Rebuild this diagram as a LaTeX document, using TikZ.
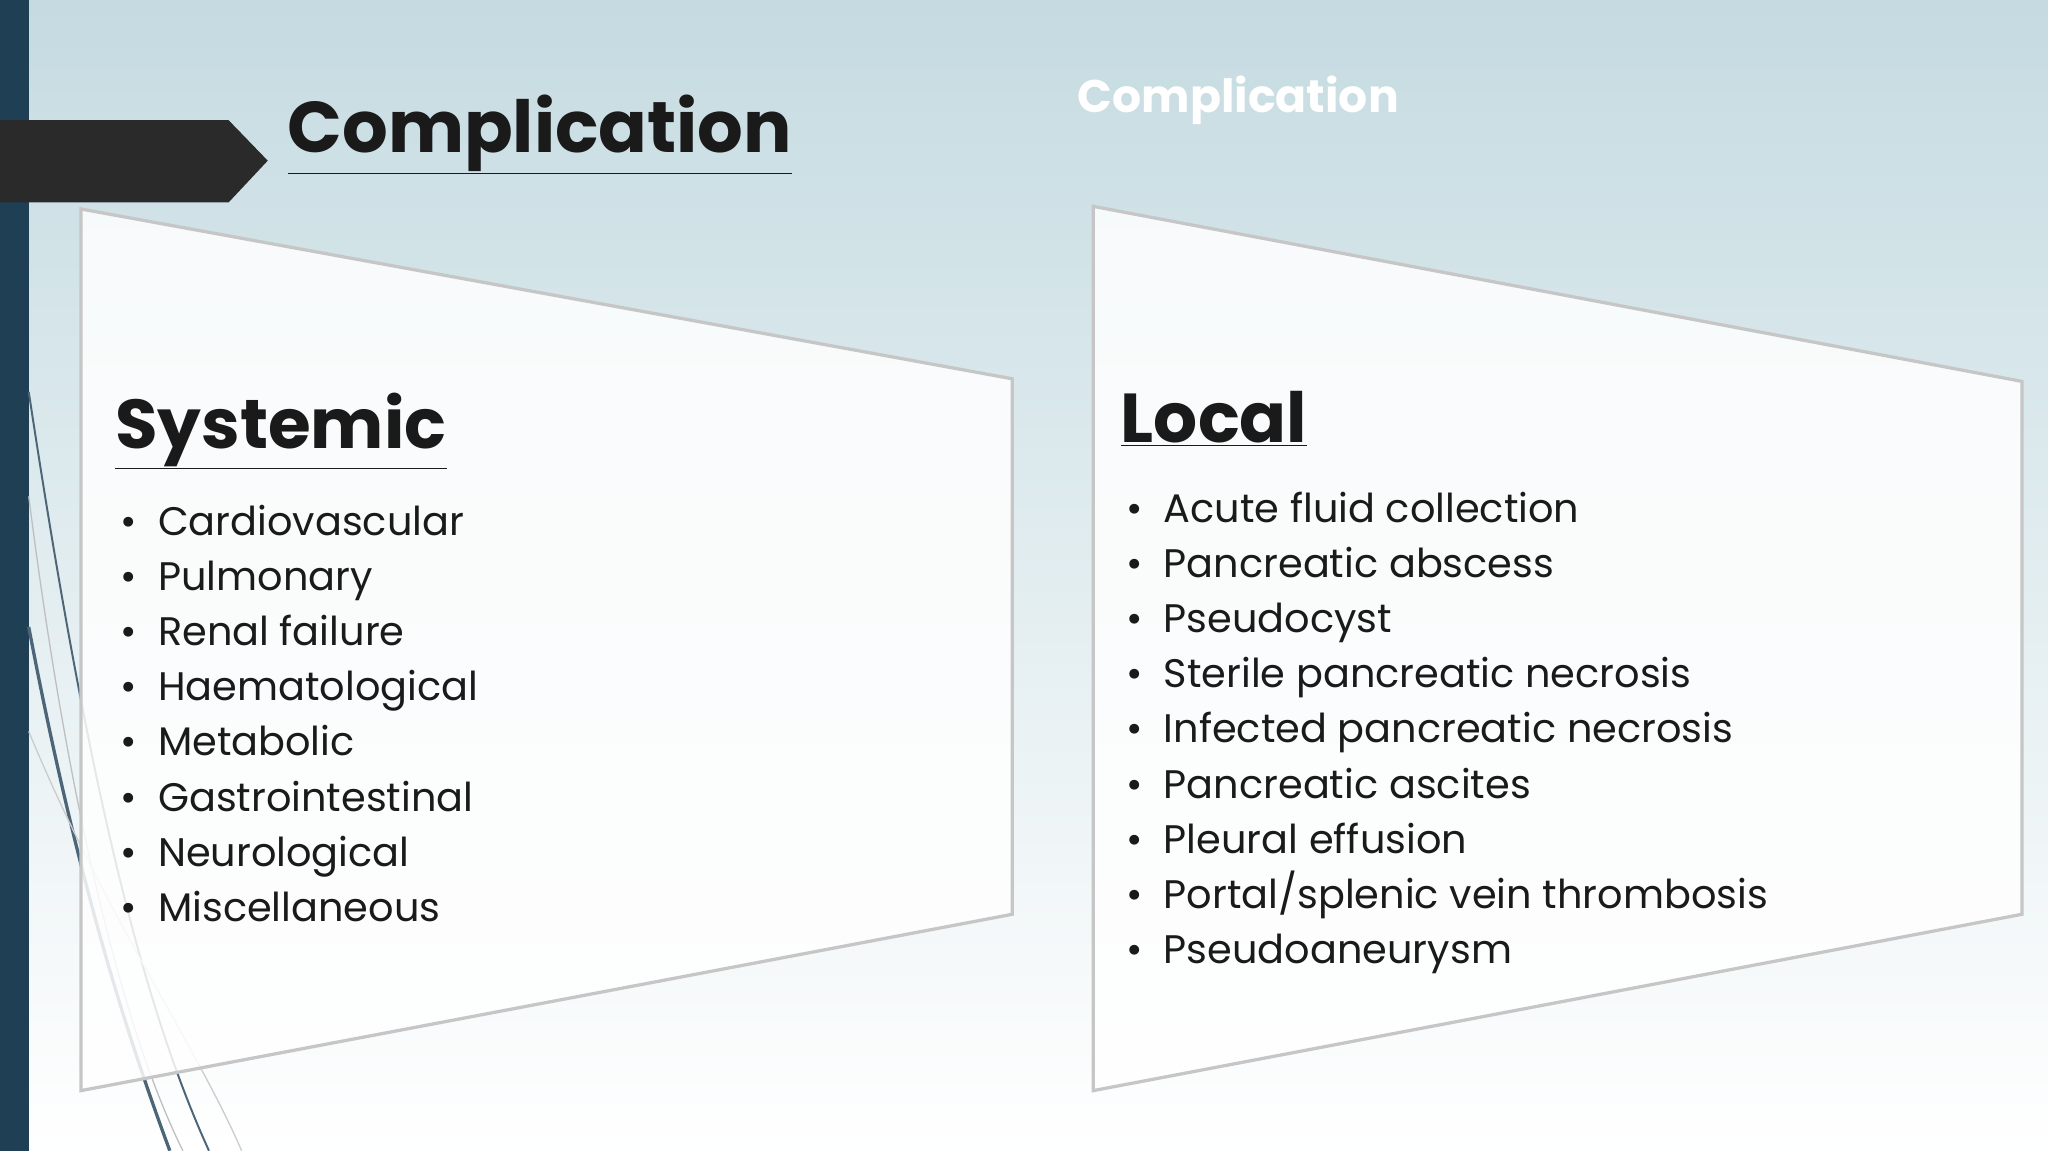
\documentclass[tikz,border=0pt]{standalone}
\usepackage{fontspec}
\setmainfont{Poppins}
\usetikzlibrary{shapes.geometric}
\definecolor{bgtop}{HTML}{C5DBE1}
\definecolor{bar}{HTML}{1F3F55}
\definecolor{arrowc}{HTML}{2A2A2A}
\definecolor{txt}{HTML}{1A1A1A}
\tikzset{
 panel/.style={draw=gray!45,line width=2.5pt,fill=white,fill opacity=0.85},
 item/.style={anchor=base west,font=\fontsize{30.5}{32}\selectfont,text=txt,inner sep=0pt},
 head/.style={anchor=base west,font=\fontsize{53}{55}\selectfont\bfseries,text=txt,inner sep=0pt},
 curve/.style={draw=bar!80,line width=1.5pt}
}
\newcommand{\bul}{\textbullet\ \ }
\begin{document}
\begin{tikzpicture}[x=1pt,y=-1pt]
\useasboundingbox (0,0) rectangle (1568,881);
\shade[top color=bgtop,bottom color=white] (0,0) rectangle (1568,881);
\fill[bar] (0,0) rectangle (22,881);
% curves
\draw[curve] (22,300) .. controls (60,550) and (100,750) .. (160,881);
\draw[curve,draw=gray!50,line width=1pt] (22,380) .. controls (50,600) and (90,780) .. (140,881);
\draw[curve,line width=2.5pt] (22,480) .. controls (60,680) and (100,800) .. (130,881);
\draw[curve,draw=gray!40,line width=1pt] (22,560) .. controls (80,700) and (150,800) .. (185,881);
% arrow tab
\fill[arrowc] (0,92) -- (175,92) -- (205,123) -- (175,155) -- (0,155) -- cycle;
\node[head,font=\fontsize{55}{57}\selectfont\bfseries] (title) at (220,117) {\underline{Complication}};
\node[font=\fontsize{35}{36}\selectfont\bfseries,text=white,anchor=base west,inner sep=0pt] (sub) at (825,86) {Complication};
% panels
\path[panel] (62,160) -- (775,290) -- (775,700) -- (62,835) -- cycle;
\path[panel] (837,158) -- (1548,292) -- (1548,700) -- (837,835) -- cycle;
\node[head] (sys) at (88,343) {\underline{Systemic}};
\node[head] (loc) at (858,339) {\underline{Local}};
\foreach \t [count=\i] in {Cardiovascular,Pulmonary,Renal failure,Haematological,Metabolic,Gastrointestinal,Neurological,Miscellaneous}
 \node[item] (s\i) at (92,{410+42.2*(\i-1)}) {\bul\t};
\foreach \t [count=\i] in {Acute fluid collection,Pancreatic abscess,Pseudocyst,Sterile pancreatic necrosis,Infected pancreatic necrosis,Pancreatic ascites,Pleural effusion,Portal/splenic vein thrombosis,Pseudoaneurysm}
 \node[item] (l\i) at (862,{400+42.2*(\i-1)}) {\bul\t};
\end{tikzpicture}
\end{document}
